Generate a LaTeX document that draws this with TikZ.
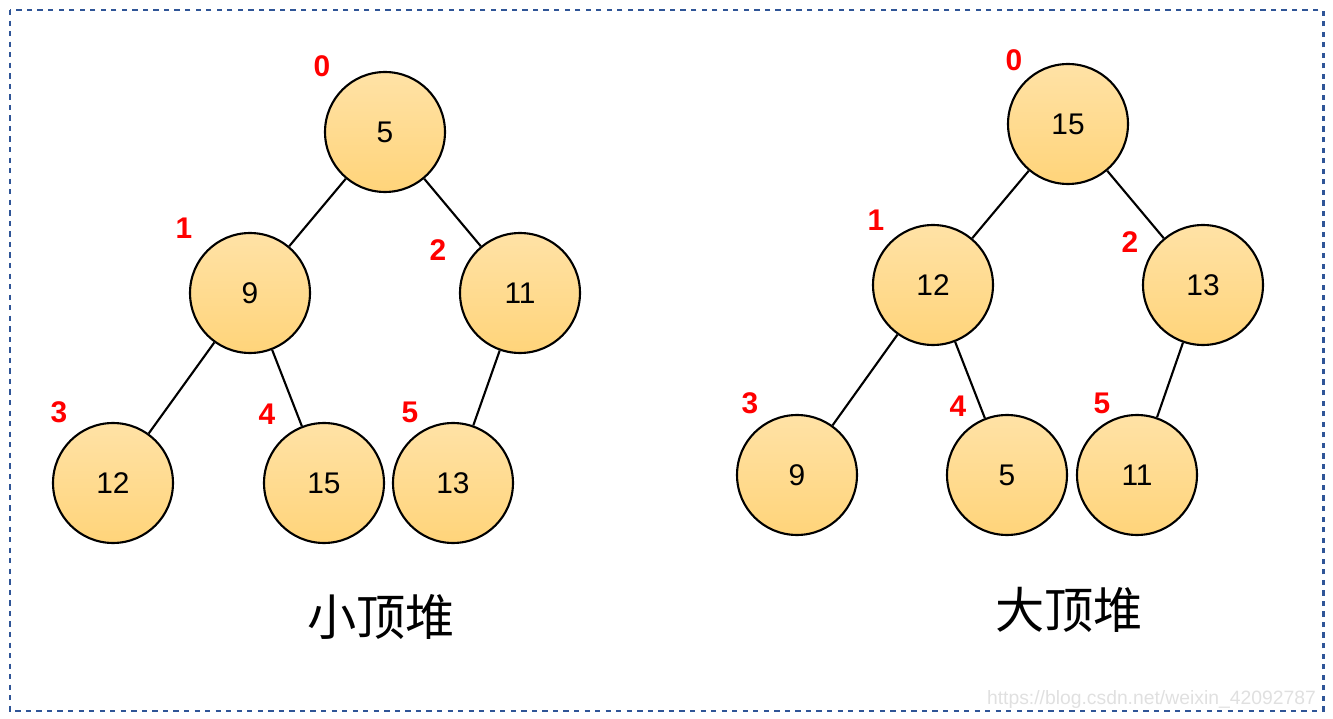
\documentclass[tikz,border=0pt]{standalone}
\usepackage{fontspec}
\setmainfont{Liberation Sans}
\newfontfamily\cjk{Noto Sans CJK SC}
\usetikzlibrary{positioning}
\definecolor{frameblue}{HTML}{2F5597}
\definecolor{heaptop}{HTML}{FFE2A6}
\definecolor{heapbot}{HTML}{FFD47A}
\tikzset{
    heapnode/.style={circle, draw=black, line width=1.2pt, minimum size=2.4cm,
        top color=heaptop, bottom color=heapbot, font=\fontsize{17}{20}\selectfont},
    idxlabel/.style={text=red, font=\bfseries\fontsize{17}{20}\selectfont},
    edge/.style={line width=1.2pt},
    title/.style={font=\cjk\fontsize{28}{32}\selectfont}
}
\begin{document}
\begin{tikzpicture}[x=0.02cm, y=-0.02cm]
        \useasboundingbox (0,0) rectangle (1333,719);
        \draw[frameblue, dashed, line width=1.7pt] (10,10) rectangle (1323,711);

        % min heap
        \node[heapnode] (a0) at (385,132) {5};
        \node[heapnode] (a1) at (250,293) {9};
        \node[heapnode] (a2) at (520,293) {11};
        \node[heapnode] (a3) at (113,483) {12};
        \node[heapnode] (a4) at (324,483) {15};
        \node[heapnode] (a5) at (453,483) {13};
        \draw[edge] (a0) -- (a1);
        \draw[edge] (a0) -- (a2);
        \draw[edge] (a1) -- (a3);
        \draw[edge] (a1) -- (a4);
        \draw[edge] (a2) -- (a5);
        \node[idxlabel] (ai0) at (322,66) {0};
        \node[idxlabel] (ai1) at (184,228) {1};
        \node[idxlabel] (ai2) at (438,250) {2};
        \node[idxlabel] (ai3) at (59,412) {3};
        \node[idxlabel] (ai4) at (267,414) {4};
        \node[idxlabel] (ai5) at (410,412) {5};
        \node[title] (atitle) at (381,617) {小顶堆};

        % max heap
        \node[heapnode] (b0) at (1068,124) {15};
        \node[heapnode] (b1) at (933,285) {12};
        \node[heapnode] (b2) at (1203,285) {13};
        \node[heapnode] (b3) at (797,475) {9};
        \node[heapnode] (b4) at (1007,475) {5};
        \node[heapnode] (b5) at (1137,475) {11};
        \draw[edge] (b0) -- (b1);
        \draw[edge] (b0) -- (b2);
        \draw[edge] (b1) -- (b3);
        \draw[edge] (b1) -- (b4);
        \draw[edge] (b2) -- (b5);
        \node[idxlabel] (bi0) at (1014,60) {0};
        \node[idxlabel] (bi1) at (876,220) {1};
        \node[idxlabel] (bi2) at (1130,242) {2};
        \node[idxlabel] (bi3) at (750,403) {3};
        \node[idxlabel] (bi4) at (958,406) {4};
        \node[idxlabel] (bi5) at (1102,403) {5};
        \node[title] (btitle) at (1069,610) {大顶堆};

        \node[text=black!12, font=\fontsize{11}{12}\selectfont, anchor=east] (mark) at (1322,700) {https://blog.csdn.net/weixin\_42092787};
\end{tikzpicture}
\end{document}
